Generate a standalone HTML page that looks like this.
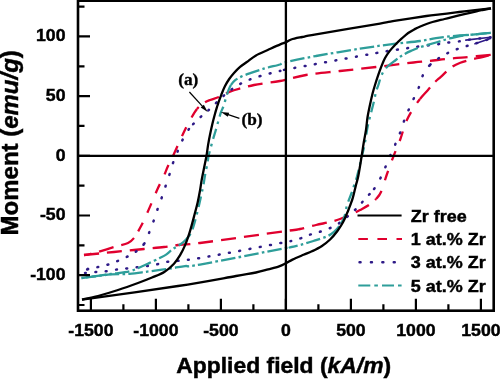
<!DOCTYPE html>
<html><head><meta charset="utf-8"><title>Hysteresis loops</title>
<style>html,body{margin:0;padding:0;background:#fff;overflow:hidden}body{width:500px;height:379px;position:relative}</style>
</head><body>
<svg width="500" height="379" viewBox="0 0 500 379" style="position:absolute;left:0;top:0">
<rect width="500" height="379" fill="#fff"/>
<path d="M490.70 54.90 C486.42 55.30 472.20 56.65 465.00 57.30 C457.80 57.95 453.45 58.18 447.50 58.80 C441.55 59.42 434.97 60.38 429.30 61.00 C423.63 61.62 422.38 61.50 413.50 62.50 C404.62 63.50 388.25 65.58 376.00 67.00 C363.75 68.42 351.67 69.67 340.00 71.00 C328.33 72.33 316.00 73.33 306.00 75.00 C296.00 76.67 286.67 79.67 280.00 81.00 C273.33 82.33 270.33 82.33 266.00 83.00 C261.67 83.67 258.00 84.17 254.00 85.00 C250.00 85.83 246.00 86.90 242.00 88.00 C238.00 89.10 233.83 90.10 230.00 91.60 C226.17 93.10 222.33 95.60 219.00 97.00 C215.67 98.40 212.50 99.00 210.00 100.00 C207.50 101.00 206.17 101.50 204.00 103.00 C201.83 104.50 199.50 105.83 197.00 109.00" fill="none" stroke="#e0002e" stroke-width="2.3" stroke-dasharray="15 8" stroke-linejoin="round"/>
<path d="M197.00 109.00 C194.50 112.17 191.33 117.83 189.00 122.00 C186.67 126.17 184.83 130.17 183.00 134.00 C181.17 137.83 179.83 141.00 178.00 145.00 C176.17 149.00 173.67 154.50 172.00 158.00 C170.33 161.50 169.50 162.67 168.00 166.00 C166.50 169.33 164.67 174.33 163.00 178.00 C161.33 181.67 159.83 184.00 158.00 188.00 C156.17 192.00 154.17 197.00 152.00 202.00 C149.83 207.00 147.00 213.67 145.00 218.00 C143.00 222.33 141.83 224.67 140.00 228.00 C138.17 231.33 136.00 235.50 134.00 238.00" fill="none" stroke="#e0002e" stroke-width="2.3" stroke-dasharray="10 11" stroke-linejoin="round"/>
<path d="M134.00 238.00 C132.00 240.50 131.33 241.50 128.00 243.00 C124.67 244.50 119.00 245.50 114.00 247.00 C109.00 248.50 102.00 250.83 98.00 252.00 C94.00 253.17 92.33 253.50 90.00 254.00 C87.67 254.50 85.00 254.83 84.00 255.00" fill="none" stroke="#e0002e" stroke-width="2.3" stroke-dasharray="15 8" stroke-linejoin="round"/>
<path d="M84.00 255.00 C87.33 254.67 97.33 253.67 104.00 253.00 C110.67 252.33 117.33 251.67 124.00 251.00 C130.67 250.33 137.33 249.67 144.00 249.00 C150.67 248.33 158.33 247.67 164.00 247.00 C169.67 246.33 172.00 245.67 178.00 245.00 C184.00 244.33 182.00 245.33 200.00 243.00 C218.00 240.67 269.33 233.33 286.00 231.00 C302.67 228.67 295.00 230.00 300.00 229.00 C305.00 228.00 311.00 226.17 316.00 225.00 C321.00 223.83 326.00 223.00 330.00 222.00 C334.00 221.00 336.67 220.17 340.00 219.00 C343.33 217.83 346.67 216.50 350.00 215.00 C353.33 213.50 356.83 211.67 360.00 210.00 C363.17 208.33 366.33 206.83 369.00 205.00 C371.67 203.17 374.00 201.17 376.00 199.00" fill="none" stroke="#e0002e" stroke-width="2.3" stroke-dasharray="15 8" stroke-linejoin="round"/>
<path d="M376.00 199.00 C378.00 196.83 379.17 196.17 381.00 192.00 C382.83 187.83 384.90 180.00 387.00 174.00 C389.10 168.00 391.37 161.83 393.60 156.00 C395.83 150.17 398.33 144.67 400.40 139.00 C402.47 133.33 403.90 127.00 406.00 122.00 C408.10 117.00 410.67 112.83 413.00 109.00 C415.33 105.17 417.50 102.17 420.00 99.00" fill="none" stroke="#e0002e" stroke-width="2.3" stroke-dasharray="10 11" stroke-linejoin="round"/>
<path d="M420.00 99.00 C422.50 95.83 425.67 92.67 428.00 90.00 C430.33 87.33 431.87 85.20 434.00 83.00 C436.13 80.80 437.93 79.38 440.80 76.80 C443.67 74.22 447.95 69.83 451.20 67.50 C454.45 65.17 457.00 64.13 460.30 62.80 C463.60 61.47 467.97 60.30 471.00 59.50 C474.03 58.70 475.22 58.77 478.50 58.00 C481.78 57.23 488.67 55.42 490.70 54.90" fill="none" stroke="#e0002e" stroke-width="2.3" stroke-dasharray="15 8" stroke-linejoin="round"/>
<path d="M490.50 37.30 C486.38 37.77 470.83 39.45 465.80 40.10 C460.77 40.75 463.13 40.80 460.30 41.20 C457.47 41.60 452.65 41.98 448.80 42.50 C444.95 43.02 442.88 43.55 437.20 44.30 C431.52 45.05 420.40 46.23 414.70 47.00 C409.00 47.77 408.78 48.00 403.00 48.90 C397.22 49.80 399.50 48.97 380.00 52.40 C360.50 55.83 302.67 66.40 286.00 69.50 C269.33 72.60 283.00 70.25 280.00 71.00 C277.00 71.75 272.33 72.83 268.00 74.00 C263.67 75.17 258.00 76.67 254.00 78.00 C250.00 79.33 247.17 80.50 244.00 82.00 C240.83 83.50 237.83 85.17 235.00 87.00 C232.17 88.83 229.50 91.00 227.00 93.00 C224.50 95.00 221.83 97.33 220.00 99.00 C218.17 100.67 218.17 100.90 216.00 103.00 C213.83 105.10 209.93 108.93 207.00 111.60 C204.07 114.27 201.40 116.10 198.40 119.00 C195.40 121.90 191.73 125.33 189.00 129.00" fill="none" stroke="#2e1a87" stroke-width="2.5" stroke-dasharray="0.9 9.5" stroke-linecap="round" stroke-linejoin="round"/>
<path d="M189.00 129.00 C186.27 132.67 183.93 137.17 182.00 141.00 C180.07 144.83 178.90 148.33 177.40 152.00 C175.90 155.67 174.30 159.33 173.00 163.00 C171.70 166.67 170.83 170.17 169.60 174.00 C168.37 177.83 166.93 182.00 165.60 186.00 C164.27 190.00 162.93 194.17 161.60 198.00 C160.27 201.83 158.93 205.17 157.60 209.00 C156.27 212.83 155.03 217.00 153.60 221.00 C152.17 225.00 150.60 229.17 149.00 233.00 C147.40 236.83 146.50 240.67 144.00 244.00" fill="none" stroke="#2e1a87" stroke-width="2.5" stroke-dasharray="0.9 11.4" stroke-linecap="round" stroke-linejoin="round"/>
<path d="M144.00 244.00 C141.50 247.33 137.67 250.50 134.00 253.00 C130.33 255.50 126.00 257.17 122.00 259.00 C118.00 260.83 114.00 262.67 110.00 264.00 C106.00 265.33 101.67 266.17 98.00 267.00 C94.33 267.83 90.17 268.00 88.00 269.00" fill="none" stroke="#2e1a87" stroke-width="2.5" stroke-dasharray="0.9 9.5" stroke-linecap="round" stroke-linejoin="round"/>
<path d="M88.00 269.00 C85.83 270.00 85.50 272.33 85.00 273.00" fill="none" stroke="#2e1a87" stroke-width="2.5" stroke-dasharray="0.9 11.4" stroke-linecap="round" stroke-linejoin="round"/>
<path d="M85.00 273.00 C86.83 272.83 92.17 272.33 96.00 272.00 C99.83 271.67 104.00 271.50 108.00 271.00 C112.00 270.50 116.17 269.50 120.00 269.00 C123.83 268.50 125.33 268.67 131.00 268.00 C136.67 267.33 148.17 266.00 154.00 265.00 C159.83 264.00 158.33 263.17 166.00 262.00 C173.67 260.83 180.00 261.33 200.00 258.00 C220.00 254.67 269.33 245.25 286.00 242.00 C302.67 238.75 296.17 239.67 300.00 238.50 C303.83 237.33 306.00 236.02 309.00 235.00 C312.00 233.98 314.83 233.40 318.00 232.40 C321.17 231.40 324.67 230.40 328.00 229.00 C331.33 227.60 334.83 226.00 338.00 224.00 C341.17 222.00 343.83 219.67 347.00 217.00 C350.17 214.33 354.00 211.00 357.00 208.00 C360.00 205.00 362.17 202.17 365.00 199.00 C367.83 195.83 371.50 192.33 374.00 189.00" fill="none" stroke="#2e1a87" stroke-width="2.5" stroke-dasharray="0.9 9.5" stroke-linecap="round" stroke-linejoin="round"/>
<path d="M374.00 189.00 C376.50 185.67 378.17 182.50 380.00 179.00 C381.83 175.50 383.33 171.83 385.00 168.00 C386.67 164.17 388.33 159.83 390.00 156.00 C391.67 152.17 393.33 148.83 395.00 145.00 C396.67 141.17 398.43 137.17 400.00 133.00 C401.57 128.83 402.90 124.00 404.40 120.00 C405.90 116.00 407.40 112.67 409.00 109.00 C410.60 105.33 412.33 101.67 414.00 98.00 C415.67 94.33 417.50 90.83 419.00 87.00 C420.50 83.17 421.17 78.67 423.00 75.00 C424.83 71.33 426.92 68.08 430.00 65.00" fill="none" stroke="#2e1a87" stroke-width="2.5" stroke-dasharray="0.9 11.4" stroke-linecap="round" stroke-linejoin="round"/>
<path d="M430.00 65.00 C433.08 61.92 437.67 58.88 441.50 56.50 C445.33 54.12 449.15 52.33 453.00 50.70 C456.85 49.07 460.95 47.87 464.60 46.70 C468.25 45.53 470.58 45.05 474.90 43.70 C479.22 42.35 487.90 39.45 490.50 38.60" fill="none" stroke="#2e1a87" stroke-width="2.5" stroke-dasharray="0.9 9.5" stroke-linecap="round" stroke-linejoin="round"/>
<path d="M465.8 40.1 L490.5 37.3 M474.9 43.7 L490.5 38.6" stroke="#2e1a87" stroke-width="1.6" fill="none" stroke-linecap="round"/>
<path d="M490.70 32.80 C487.65 33.10 478.28 34.10 472.40 34.60 C466.52 35.10 461.47 35.20 455.40 35.80 C449.33 36.40 441.90 37.33 436.00 38.20 C430.10 39.07 427.60 39.98 420.00 41.00 C412.40 42.02 400.40 43.02 390.40 44.30 C380.40 45.58 372.40 46.75 360.00 48.70 C347.60 50.65 328.50 53.73 316.00 56.00 C303.50 58.27 291.00 60.88 285.00 62.30 C279.00 63.72 282.83 63.63 280.00 64.50 C277.17 65.37 271.33 66.60 268.00 67.50 C264.67 68.40 262.83 69.00 260.00 69.90 C257.17 70.80 254.12 71.78 251.00 72.90 C247.88 74.02 243.93 75.38 241.30 76.60 C238.67 77.82 236.92 78.82 235.20 80.20 C233.48 81.58 232.10 83.28 231.00 84.90" fill="none" stroke="#2e9e9a" stroke-width="2.3" stroke-dasharray="14.5 3.2 2.6 3.2" stroke-linejoin="round"/>
<path d="M231.00 84.90 C229.90 86.52 229.42 87.85 228.60 89.90 C227.78 91.95 226.90 94.60 226.10 97.20 C225.30 99.80 224.68 102.92 223.80 105.50 C222.92 108.08 221.80 109.78 220.80 112.70 C219.80 115.62 218.70 119.87 217.80 123.00 C216.90 126.13 216.20 128.77 215.40 131.50 C214.60 134.23 213.82 136.57 213.00 139.40 C212.18 142.23 211.23 145.77 210.50 148.50 C209.77 151.23 209.12 153.32 208.60 155.80 C208.08 158.28 207.97 160.32 207.40 163.40 C206.83 166.48 205.87 170.67 205.20 174.30 C204.53 177.93 204.05 181.77 203.40 185.20 C202.75 188.63 202.15 191.07 201.30 194.90 C200.45 198.73 199.32 203.95 198.30 208.20 C197.28 212.45 196.22 216.75 195.20 220.40 C194.18 224.05 193.20 227.55 192.20 230.10 C191.20 232.65 190.72 233.65 189.20 235.70" fill="none" stroke="#2e9e9a" stroke-width="2.3" stroke-dasharray="10.6 5 2.6 5" stroke-linejoin="round"/>
<path d="M189.20 235.70 C187.68 237.75 185.83 240.17 183.10 242.40 C180.37 244.63 175.63 247.07 172.80 249.10 C169.97 251.13 168.33 253.08 166.10 254.60 C163.87 256.12 162.23 256.78 159.40 258.20 C156.57 259.62 152.13 261.68 149.10 263.10 C146.07 264.52 144.47 265.33 141.20 266.70 C137.93 268.07 134.53 270.08 129.50 271.30 C124.47 272.52 119.00 272.88 111.00 274.00 C103.00 275.12 86.42 277.33 81.50 278.00" fill="none" stroke="#2e9e9a" stroke-width="2.3" stroke-dasharray="14.5 3.2 2.6 3.2" stroke-linejoin="round"/>
<path d="M81.50 278.00 C84.25 277.67 93.08 276.62 98.00 276.00 C102.92 275.38 105.75 274.67 111.00 274.30 C116.25 273.93 123.45 274.25 129.50 273.80 C135.55 273.35 141.90 272.28 147.30 271.60 C152.70 270.92 157.45 270.32 161.90 269.70 C166.35 269.08 170.15 268.50 174.00 267.90 C177.85 267.30 180.67 266.65 185.00 266.10 C189.33 265.55 183.17 267.62 200.00 264.60 C216.83 261.58 271.00 250.87 286.00 248.00 C301.00 245.13 287.30 248.00 290.00 247.40 C292.70 246.80 298.15 245.52 302.20 244.40 C306.25 243.28 310.47 241.92 314.30 240.70 C318.13 239.48 322.37 238.22 325.20 237.10 C328.03 235.98 329.47 235.22 331.30 234.00 C333.13 232.78 334.58 231.52 336.20 229.80 C337.82 228.08 339.62 225.93 341.00 223.70" fill="none" stroke="#2e9e9a" stroke-width="2.3" stroke-dasharray="14.5 3.2 2.6 3.2" stroke-linejoin="round"/>
<path d="M341.00 223.70 C342.38 221.47 343.55 219.28 344.50 216.40 C345.45 213.52 345.92 209.28 346.70 206.40 C347.48 203.52 348.38 201.33 349.20 199.10 C350.02 196.87 350.80 195.23 351.60 193.00 C352.40 190.77 353.10 188.45 354.00 185.70 C354.90 182.95 355.67 181.48 357.00 176.50 C358.33 171.52 360.70 161.32 362.00 155.80 C363.30 150.28 363.97 147.70 364.80 143.40 C365.63 139.10 366.43 133.22 367.00 130.00 C367.57 126.78 367.70 126.30 368.20 124.10 C368.70 121.90 369.38 119.23 370.00 116.80 C370.62 114.37 371.18 112.33 371.90 109.50 C372.62 106.67 373.60 102.83 374.30 99.80 C375.00 96.77 375.42 93.77 376.10 91.30 C376.78 88.83 377.53 87.58 378.40 85.00 C379.27 82.42 380.02 78.65 381.30 75.80 C382.58 72.95 383.68 70.53 386.10 67.90" fill="none" stroke="#2e9e9a" stroke-width="2.3" stroke-dasharray="10.6 5 2.6 5" stroke-linejoin="round"/>
<path d="M386.10 67.90 C388.52 65.27 393.07 62.12 395.80 60.00 C398.53 57.88 399.97 56.72 402.50 55.20 C405.03 53.68 408.08 52.22 411.00 50.90 C413.92 49.58 415.83 48.70 420.00 47.30 C424.17 45.90 432.33 43.60 436.00 42.50 C439.67 41.40 439.57 41.42 442.00 40.70 C444.43 39.98 447.60 38.98 450.60 38.20 C453.60 37.42 456.37 36.60 460.00 36.00 C463.63 35.40 467.28 35.13 472.40 34.60 C477.52 34.07 487.65 33.10 490.70 32.80" fill="none" stroke="#2e9e9a" stroke-width="2.3" stroke-dasharray="14.5 3.2 2.6 3.2" stroke-linejoin="round"/>
<path d="M82.00 299.60 C84.67 299.00 92.00 297.60 98.00 296.00 C104.00 294.40 111.33 292.17 118.00 290.00 C124.67 287.83 132.33 285.08 138.00 283.00 C143.67 280.92 147.62 279.33 152.00 277.50 C156.38 275.67 160.63 274.30 164.30 272.00 C167.97 269.70 171.37 266.50 174.00 263.70 C176.63 260.90 178.27 258.25 180.10 255.20 C181.93 252.15 183.58 248.65 185.00 245.40 C186.42 242.15 187.50 239.00 188.60 235.70 C189.70 232.40 190.60 229.17 191.60 225.60 C192.60 222.03 193.58 218.20 194.60 214.30 C195.62 210.40 196.78 206.25 197.70 202.20 C198.62 198.15 199.45 193.63 200.10 190.00 C200.75 186.37 200.95 184.03 201.60 180.40 C202.25 176.77 203.18 172.30 204.00 168.20 C204.82 164.10 205.82 159.68 206.50 155.80 C207.18 151.92 207.53 148.33 208.10 144.90 C208.67 141.47 209.20 138.65 209.90 135.20 C210.60 131.75 211.48 127.65 212.30 124.20 C213.12 120.75 214.02 117.37 214.80 114.50 C215.58 111.63 216.43 108.87 217.00 107.00 C217.57 105.13 217.48 105.33 218.20 103.30 C218.92 101.27 220.18 97.63 221.30 94.80 C222.42 91.97 223.58 88.93 224.90 86.30 C226.22 83.67 227.68 81.23 229.20 79.00 C230.72 76.77 232.18 74.92 234.00 72.90 C235.82 70.88 237.97 68.72 240.10 66.90 C242.23 65.08 244.15 63.92 246.80 62.00 C249.45 60.08 252.43 57.43 256.00 55.40 C259.57 53.37 264.15 51.63 268.20 49.80 C272.25 47.97 277.37 45.63 280.30 44.40 C283.23 43.17 283.98 43.22 285.80 42.40 C287.62 41.58 288.47 40.40 291.20 39.50 C293.93 38.60 298.07 37.85 302.20 37.00 C306.33 36.15 303.03 36.63 316.00 34.40 C328.97 32.17 366.67 25.88 380.00 23.60 C393.33 21.32 388.27 21.97 396.00 20.70 C403.73 19.43 419.07 17.05 426.40 16.00 C433.73 14.95 435.07 15.00 440.00 14.40 C444.93 13.80 451.95 12.90 456.00 12.40 C460.05 11.90 458.47 12.08 464.30 11.40 C470.13 10.72 486.55 8.82 491.00 8.30" fill="none" stroke="#000" stroke-width="2.3" stroke-linejoin="round"/>
<path d="M82.00 299.60 C98.00 297.33 152.33 289.93 178.00 286.00 C203.67 282.07 223.00 278.25 236.00 276.00 C249.00 273.75 250.63 273.60 256.00 272.50 C261.37 271.40 264.35 270.42 268.20 269.40 C272.05 268.38 276.17 267.42 279.10 266.40 C282.03 265.38 283.57 264.43 285.80 263.30 C288.03 262.17 289.55 261.02 292.50 259.60 C295.45 258.18 300.27 256.18 303.50 254.80 C306.73 253.42 308.88 252.73 311.90 251.30 C314.92 249.87 318.57 248.17 321.60 246.20 C324.63 244.23 327.47 242.03 330.10 239.50 C332.73 236.97 335.25 233.87 337.40 231.00 C339.55 228.13 341.45 225.13 343.00 222.30 C344.55 219.47 345.77 216.13 346.70 214.00 C347.63 211.87 347.58 212.18 348.60 209.50 C349.62 206.82 351.60 201.87 352.80 197.90 C354.00 193.93 354.88 189.35 355.80 185.70 C356.72 182.05 357.32 180.98 358.30 176.00 C359.28 171.02 360.78 161.43 361.70 155.80 C362.62 150.17 363.08 146.50 363.80 142.20 C364.52 137.90 365.37 134.23 366.00 130.00 C366.63 125.77 366.93 121.02 367.60 116.80 C368.27 112.58 369.18 108.55 370.00 104.70 C370.82 100.85 371.67 96.98 372.50 93.70 C373.33 90.42 374.05 88.08 375.00 85.00 C375.95 81.92 377.15 78.25 378.20 75.20 C379.25 72.15 380.18 69.53 381.30 66.70 C382.42 63.87 383.48 60.83 384.90 58.20 C386.32 55.57 388.03 53.18 389.80 50.90 C391.57 48.62 393.45 46.62 395.50 44.50 C397.55 42.38 399.98 40.12 402.10 38.20 C404.22 36.28 406.18 34.47 408.20 33.00 C410.22 31.53 412.18 30.48 414.20 29.40 C416.22 28.32 417.25 27.73 420.30 26.50 C423.35 25.27 428.45 23.25 432.50 22.00 C436.55 20.75 440.68 19.97 444.60 19.00 C448.52 18.03 452.72 17.00 456.00 16.20 C459.28 15.40 460.88 15.02 464.30 14.20 C467.72 13.38 473.47 12.00 476.50 11.30 C479.53 10.60 480.08 10.50 482.50 10.00 C484.92 9.50 489.58 8.58 491.00 8.30" fill="none" stroke="#000" stroke-width="2.3" stroke-linejoin="round"/>
<path d="M78 155.8 H493.7 M285.9 0.7 V310.7" stroke="#000" stroke-width="2.3" fill="none"/>
<rect x="78" y="0.7" width="415.7" height="310" fill="none" stroke="#000" stroke-width="2.6"/>
<path d="M78 304.988 h6.5 M78 275.15 h12 M78 245.312 h6.5 M78 215.475 h12 M78 185.638 h6.5 M78 155.8 h12 M78 125.963 h6.5 M78 96.125 h12 M78 66.2875 h6.5 M78 36.45 h12 M78 6.6125 h6.5 M90.9 310.7 v-12 M123.4 310.7 v-6.5 M155.9 310.7 v-12 M188.4 310.7 v-6.5 M220.9 310.7 v-12 M253.4 310.7 v-6.5 M285.9 310.7 v-12 M318.4 310.7 v-6.5 M350.9 310.7 v-12 M383.4 310.7 v-6.5 M415.9 310.7 v-12 M448.4 310.7 v-6.5 M480.9 310.7 v-12" stroke="#000" stroke-width="2.2" fill="none"/>
<text transform="translate(65.50 280.15) scale(1.040 1.000)" font-family="'Liberation Sans', sans-serif" font-weight="bold" font-size="17px" text-anchor="end" fill="#000" stroke="#000" stroke-width="0.45">-100</text>
<text transform="translate(65.50 220.48) scale(1.040 1.000)" font-family="'Liberation Sans', sans-serif" font-weight="bold" font-size="17px" text-anchor="end" fill="#000" stroke="#000" stroke-width="0.45">-50</text>
<text transform="translate(65.50 160.80) scale(1.040 1.000)" font-family="'Liberation Sans', sans-serif" font-weight="bold" font-size="17px" text-anchor="end" fill="#000" stroke="#000" stroke-width="0.45">0</text>
<text transform="translate(65.50 101.13) scale(1.040 1.000)" font-family="'Liberation Sans', sans-serif" font-weight="bold" font-size="17px" text-anchor="end" fill="#000" stroke="#000" stroke-width="0.45">50</text>
<text transform="translate(65.50 41.45) scale(1.040 1.000)" font-family="'Liberation Sans', sans-serif" font-weight="bold" font-size="17px" text-anchor="end" fill="#000" stroke="#000" stroke-width="0.45">100</text>
<text transform="translate(90.90 336.20) scale(1.040 1.000)" font-family="'Liberation Sans', sans-serif" font-weight="bold" font-size="17px" text-anchor="middle" fill="#000" stroke="#000" stroke-width="0.45">-1500</text>
<text transform="translate(155.90 336.20) scale(1.040 1.000)" font-family="'Liberation Sans', sans-serif" font-weight="bold" font-size="17px" text-anchor="middle" fill="#000" stroke="#000" stroke-width="0.45">-1000</text>
<text transform="translate(220.90 336.20) scale(1.040 1.000)" font-family="'Liberation Sans', sans-serif" font-weight="bold" font-size="17px" text-anchor="middle" fill="#000" stroke="#000" stroke-width="0.45">-500</text>
<text transform="translate(285.90 336.20) scale(1.040 1.000)" font-family="'Liberation Sans', sans-serif" font-weight="bold" font-size="17px" text-anchor="middle" fill="#000" stroke="#000" stroke-width="0.45">0</text>
<text transform="translate(350.90 336.20) scale(1.040 1.000)" font-family="'Liberation Sans', sans-serif" font-weight="bold" font-size="17px" text-anchor="middle" fill="#000" stroke="#000" stroke-width="0.45">500</text>
<text transform="translate(415.90 336.20) scale(1.040 1.000)" font-family="'Liberation Sans', sans-serif" font-weight="bold" font-size="17px" text-anchor="middle" fill="#000" stroke="#000" stroke-width="0.45">1000</text>
<text transform="translate(480.90 336.20) scale(1.040 1.000)" font-family="'Liberation Sans', sans-serif" font-weight="bold" font-size="17px" text-anchor="middle" fill="#000" stroke="#000" stroke-width="0.45">1500</text>
<text transform="translate(283.70 373.20) scale(1.060 1.000)" font-family="'Liberation Sans', sans-serif" font-weight="bold" font-size="21.6px" text-anchor="middle" fill="#000" stroke="#000" stroke-width="0.45">Applied field (<tspan font-style="italic">kA/m</tspan>)</text>
<text transform="translate(17.50 142.80) rotate(-90) scale(1.000 0.985)" font-family="'Liberation Sans', sans-serif" font-weight="bold" font-size="24px" text-anchor="middle" fill="#000" stroke="#000" stroke-width="0.45">Moment (<tspan font-style="italic">emu/g</tspan>)</text>
<text transform="translate(410.80 221.90) scale(1.045 1.000)" font-family="'Liberation Sans', sans-serif" font-weight="bold" font-size="17.2px" text-anchor="start" fill="#000" stroke="#000" stroke-width="0.45">Zr free</text>
<text transform="translate(410.80 245.10) scale(1.045 1.000)" font-family="'Liberation Sans', sans-serif" font-weight="bold" font-size="17.2px" text-anchor="start" fill="#000" stroke="#000" stroke-width="0.45">1 at.% Zr</text>
<text transform="translate(410.80 268.30) scale(1.045 1.000)" font-family="'Liberation Sans', sans-serif" font-weight="bold" font-size="17.2px" text-anchor="start" fill="#000" stroke="#000" stroke-width="0.45">3 at.% Zr</text>
<text transform="translate(410.80 291.50) scale(1.045 1.000)" font-family="'Liberation Sans', sans-serif" font-weight="bold" font-size="17.2px" text-anchor="start" fill="#000" stroke="#000" stroke-width="0.45">5 at.% Zr</text>
<text transform="translate(188.30 85.30)" font-family="'Liberation Serif', serif" font-weight="bold" font-size="17.3px" text-anchor="middle" fill="#000" stroke="#000" stroke-width="0.35">(a)</text>
<text transform="translate(252.00 124.50)" font-family="'Liberation Serif', serif" font-weight="bold" font-size="17.3px" text-anchor="middle" fill="#000" stroke="#000" stroke-width="0.35">(b)</text>
<path d="M357.5 215.6 H401.6" stroke="#000" stroke-width="2"/>
<path d="M358.3 239 H402" stroke="#e0002e" stroke-width="2" stroke-dasharray="9.6 9.5"/>
<path d="M359.5 262.3 H402" stroke="#2e1a87" stroke-width="2.4" stroke-dasharray="1.1 10.3" stroke-linecap="round"/>
<path d="M358.3 285.5 H402" stroke="#2e9e9a" stroke-width="2" stroke-dasharray="12 4 3.6 4.1"/>
<path d="M189.40 92.00 L202.99 106.92" stroke="#000" stroke-width="1.2" fill="none"/>
<path d="M207.70 112.10 L200.76 107.60 L203.87 104.77 Z" fill="#000"/>
<path d="M239.40 118.40 L227.53 114.36" stroke="#000" stroke-width="1.2" fill="none"/>
<path d="M220.90 112.10 L229.15 112.69 L227.80 116.67 Z" fill="#000"/>
</svg>
</body></html>
